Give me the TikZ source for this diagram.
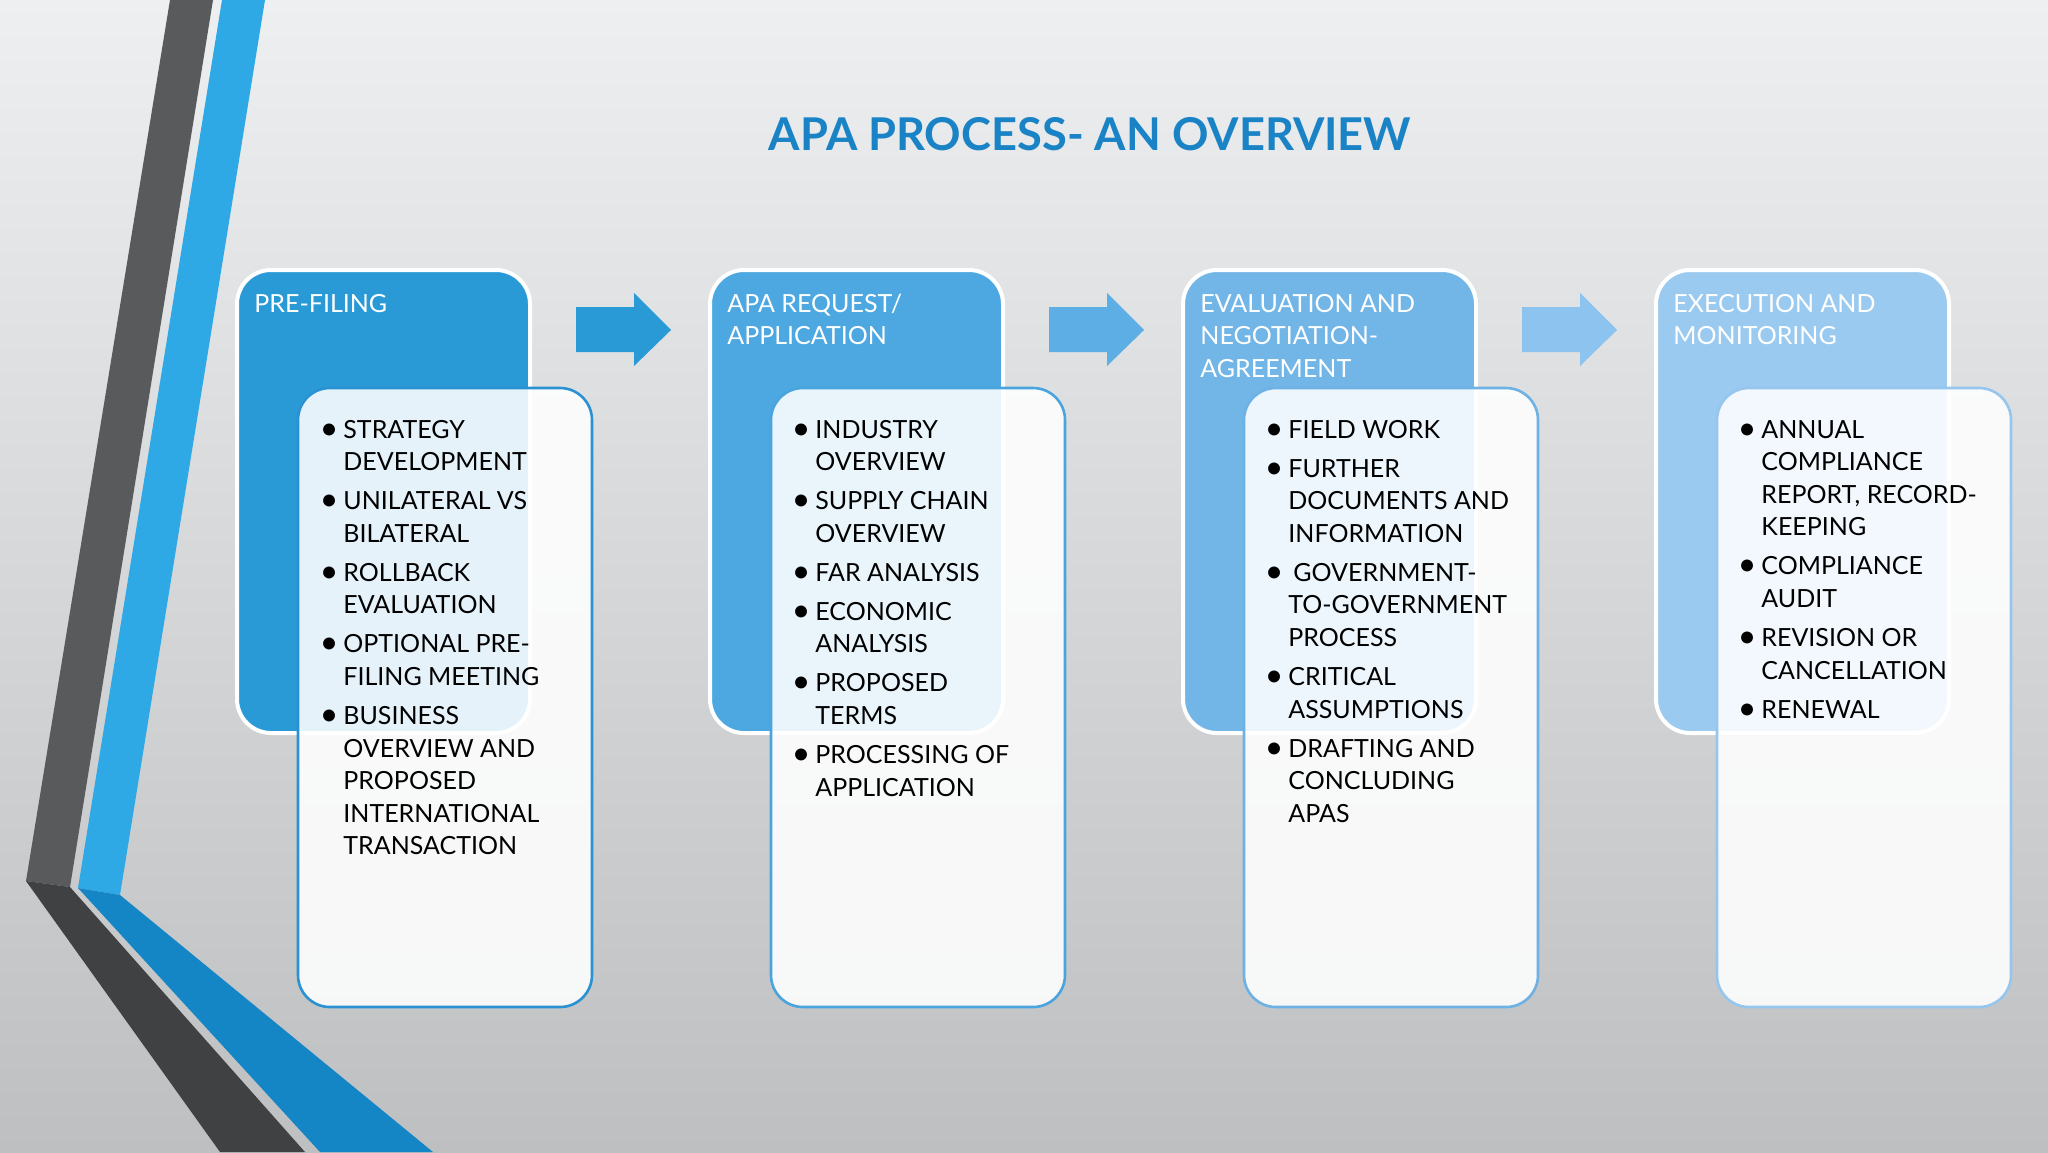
\documentclass[tikz,border=0pt]{standalone}
\usepackage{fontspec}
\setmainfont{Lato}
\definecolor{bgtop}{HTML}{EEEFF0}
\definecolor{bgbot}{HTML}{BDBFC1}
\definecolor{dkA}{HTML}{595A5C}
\definecolor{dkB}{HTML}{404142}
\definecolor{blA}{HTML}{2EA9E6}
\definecolor{blB}{HTML}{1485C5}
\definecolor{ttl}{HTML}{1A83C6}
\definecolor{hA}{HTML}{2A9AD7}
\definecolor{hB}{HTML}{4DA8E1}
\definecolor{hC}{HTML}{72B5E7}
\definecolor{hD}{HTML}{9BCAF0}
\definecolor{bA}{HTML}{2A92D2}
\definecolor{bB}{HTML}{4AA4DE}
\definecolor{bC}{HTML}{6DB1E5}
\definecolor{bD}{HTML}{96C6EE}
\definecolor{aA}{HTML}{2A9AD7}
\definecolor{aB}{HTML}{5CAEE5}
\definecolor{aC}{HTML}{8DC4EF}
\newcommand{\bul}{\leavevmode\llap{\raisebox{-0.5pt}{\fontsize{16}{10}\selectfont\textbullet}\hspace{2.5pt}}}
\newcommand{\gap}{\par\vspace{3.2pt}}
\tikzset{
  hdrbox/.style={draw=white, line width=2pt, rounded corners=17pt, minimum width=146.5pt, minimum height=231.5pt, inner sep=0pt},
  innerbox/.style={fill=white, fill opacity=0.88, line width=1.3pt, rounded corners=16pt, minimum width=147pt, minimum height=309.5pt, inner sep=0pt},
  hdrtxt/.style={anchor=base west, inner sep=0pt, text=white, font=\fontsize{12.5}{16.3}\selectfont},
  itemtxt/.style={anchor=base west, inner sep=0pt, text=black, font=\fontsize{12.5}{16.3}\selectfont},
  ttlstyle/.style={anchor=base, inner sep=0pt, text=ttl, font=\bfseries\fontsize{22.6}{28}\selectfont}
}
\newcommand{\blockarrow}[2]{% #1 = left x, #2 = colour
  \fill[#2] (#1,307) -- ++(58,0) -- ++(0,-14) -- ++(37,37) -- ++(-37,36) -- ++(0,-14) -- ++(-58,0) -- cycle;}
\begin{document}
\begin{tikzpicture}[x=0.5pt,y=-0.5pt]
\useasboundingbox (0,0) rectangle (2048,1152);
\shade[top color=bgtop, bottom color=bgbot] (0,0) rectangle (2048,1152);
% left decoration
\fill[dkA] (170,0) -- (213,0) -- (70,887) -- (26,881) -- cycle;
\fill[dkB] (26,881) -- (70,887) -- (305,1152) -- (220,1152) -- cycle;
\fill[blA] (222,0) -- (265,0) -- (120,895) -- (78,888) -- cycle;
\fill[blB] (78,888) -- (120,895) -- (433,1152) -- (320,1152) -- cycle;
% title
\node[ttlstyle] (title) at (1090,150) {APA PROCESS- AN OVERVIEW};
% header boxes
\node[hdrbox, fill=hA] (h1) at (383.5,501.5) {};
\node[hdrbox, fill=hB] (h2) at (856.5,501.5) {};
\node[hdrbox, fill=hC] (h3) at (1329.5,501.5) {};
\node[hdrbox, fill=hD] (h4) at (1802.5,501.5) {};
% inner boxes
\node[innerbox, draw=bA] (b1) at (445,697.5) {};
\node[innerbox, draw=bB] (b2) at (918,697.5) {};
\node[innerbox, draw=bC] (b3) at (1391,697.5) {};
\node[innerbox, draw=bD] (b4) at (1864,697.5) {};
% block arrows between the steps
\blockarrow{576}{aA}
\blockarrow{1049}{aB}
\blockarrow{1522}{aC}
% header texts
\node[hdrtxt] (t1) at (254,312) {\parbox[t]{140pt}{\raggedright PRE-FILING}};
\node[hdrtxt] (t2) at (727,312) {\parbox[t]{140pt}{\raggedright APA REQUEST/\\APPLICATION}};
\node[hdrtxt] (t3) at (1200,312) {\parbox[t]{140pt}{\raggedright EVALUATION AND\\NEGOTIATION-\\AGREEMENT}};
\node[hdrtxt] (t4) at (1673,312) {\parbox[t]{140pt}{\raggedright EXECUTION AND\\MONITORING}};
% item texts
\node[itemtxt] (l1) at (343,438) {\parbox[t]{140pt}{\raggedright
\bul STRATEGY\\DEVELOPMENT\gap
\bul UNILATERAL VS\\BILATERAL\gap
\bul ROLLBACK\\EVALUATION\gap
\bul OPTIONAL PRE-\\FILING MEETING\gap
\bul BUSINESS\\OVERVIEW AND\\PROPOSED\\INTERNATIONAL\\TRANSACTION}};
\node[itemtxt] (l2) at (815,438) {\parbox[t]{140pt}{\raggedright
\bul INDUSTRY\\OVERVIEW\gap
\bul SUPPLY CHAIN\\OVERVIEW\gap
\bul FAR ANALYSIS\gap
\bul ECONOMIC\\ANALYSIS\gap
\bul PROPOSED\\TERMS\gap
\bul PROCESSING OF\\APPLICATION}};
\node[itemtxt] (l3) at (1288,438) {\parbox[t]{140pt}{\raggedright
\bul FIELD WORK\gap
\bul FURTHER\\DOCUMENTS AND\\INFORMATION\gap
\bul\hspace{2.5pt}GOVERNMENT-\\TO-GOVERNMENT\\PROCESS\gap
\bul CRITICAL\\ASSUMPTIONS\gap
\bul DRAFTING AND\\CONCLUDING\\APAS}};
\node[itemtxt] (l4) at (1761,438) {\parbox[t]{140pt}{\raggedright
\bul ANNUAL\\COMPLIANCE\\REPORT, RECORD-\\KEEPING\gap
\bul COMPLIANCE\\AUDIT\gap
\bul REVISION OR\\CANCELLATION\gap
\bul RENEWAL}};
\end{tikzpicture}
\end{document}
